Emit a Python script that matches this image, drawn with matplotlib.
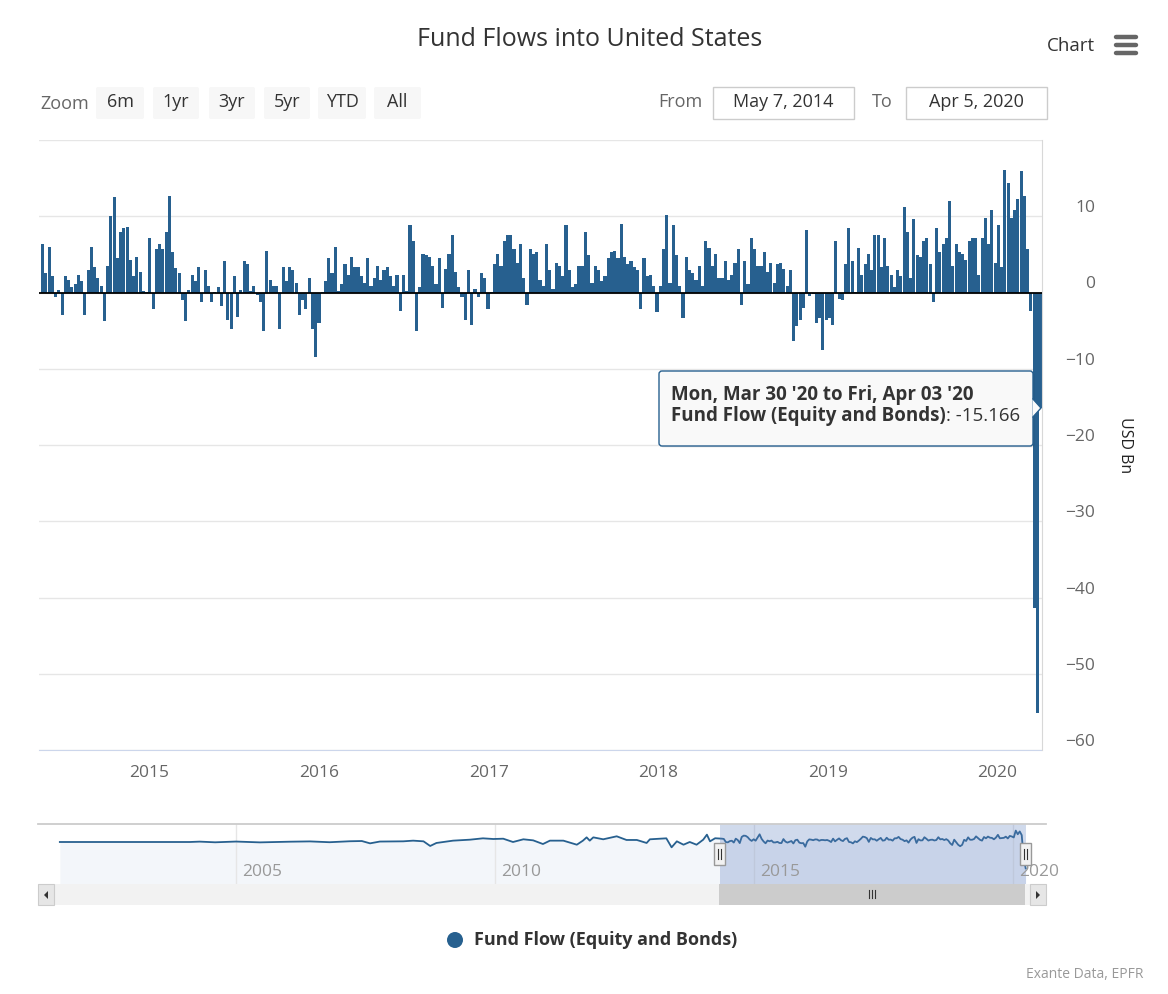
import matplotlib
matplotlib.use("Agg")
import matplotlib.pyplot as plt
import matplotlib.transforms as mtransforms
from matplotlib.patches import Rectangle, FancyBboxPatch, Polygon, Circle
import numpy as np
import pandas as pd

plt.rcParams['font.family'] = ['Open Sans', 'DejaVu Sans']

# ---------------- data ----------------
first_week = "2014-05-16"   # weekly values, week ending Friday

flows_a = [6.4, 2.5, 6.0, 2.1, -0.6, 0.35, -3.0, 2.1, 1.7, 0.7,
           1.1, 2.3, 1.5, -3.0, 2.9, 6.0, 3.3, 1.9, 0.9, -3.8,
           3.5, 10.0, 12.5, 4.5, 8.0, 8.4, 8.6, 4.3, 2.1, 4.6,
           2.7, 0.2, 0.1, 7.2, -2.2, 5.7, 6.4, 5.7, 7.9, 12.6,
           5.3, 3.2, 2.5, -1.0, -3.8, 0.35, 2.3, 1.5, 3.3, -1.3,
           2.9, 0.9, -1.3, 0.1]
flows_b = [0.7, -1.8, 4.1, -3.6, -4.8, 2.1, -3.2, 0.35, 4.1, 3.7,
           0.2, 0.9, -0.3, -1.3, -5.0, 5.5, 1.7, 0.9, 0.9, -4.8,
           3.3, 1.5, 3.3, 2.9, 1.3, -3.0, -1.0, -2.2, 1.9, -4.8,
           -8.5, -4.0, 0.05, 1.5, 4.5, 2.5, 6.0, 0.2, 1.1, 3.7,
           2.3, 4.6, 3.3, 3.3, 2.1, 1.3, 4.5, 0.9, 1.9, 3.5,
           1.7]
flows_c = [2.9, 3.3, 2.1, 0.9, 2.3, -2.4, 2.3, 0.2, 8.8, 6.7,
           -5.0, 0.75, 5.1, 4.9, 4.7, 3.5, 1.1, 4.5, -2.0, 3.1,
           5.1, 7.5, 2.7, 0.75, -0.6, -3.6, 2.9, -4.2, 0.5, -0.6,
           2.5, 1.9, -2.2, 0.1, 3.7, 5.1, 3.5, 6.7, 7.6, 7.5,
           5.7, 3.9, 6.4, 1.9, -1.6, 5.7, 5.1, 5.3, 1.7, 0.9,
           6.3]
flows_d = [2.9, 0.5, 3.9, 3.5, 2.1, 8.8, 2.9, 0.75, 1.1, 3.5,
           3.5, 7.9, 4.9, 1.3, 3.5, 2.9, 1.5, 2.1, 4.5, 5.3,
           5.5, 4.5, 9.0, 4.6, 3.7, 4.1, 3.3, 2.9, -2.2, 4.5,
           2.1, 2.3, 0.9, -2.6, 0.9, 5.7, 10.2, 1.3, 8.8, 4.9,
           0.9, -3.4, 4.6, 2.9, 2.5, 1.7, 3.5, 0.9, 6.8, 5.9,
           3.5, 5.1]
flows_e = [1.9, 1.9, 4.1, 1.7, 2.3, 3.9, 5.7, -1.6, 4.1, 1.1,
           7.1, 5.7, 3.5, 3.5, 5.3, 2.7, 3.9, 1.3, 3.7, 3.9,
           3.1, 0.9, 2.9, -6.4, -4.4, -3.6, -2.0, 8.2, -0.4, -0.2,
           -4.0, -3.4, -7.6, -3.6, -3.4, -4.2, 6.7, -0.8, -1.0, 3.7,
           8.4, 4.1, 0.1, 5.9, 2.3, 3.7, 5.1, 2.9, 7.5, 7.5,
           3.3]
flows_f = [7.1, 3.5, 2.3, 0.75, 2.9, 2.1, 11.2, 7.9, 1.9, 9.6,
           4.9, 4.7, 6.8, 7.2, 3.7, -1.2, 8.4, 5.3, 6.4, 7.1,
           12.0, 3.5, 6.4, 5.3, 5.1, 4.3, 6.8, 7.1, 7.2, 2.3,
           7.2, 9.8, 6.4, 10.8, 3.9, 8.8, 3.3, 16.1, 14.3, 9.8,
           10.8, 12.2, 15.9, 12.6, 5.7]
flows_g = [-2.4, -41.4, -55.2, -15.166]

# navigator history (before the main window)
nav_hist_dates = ["2001-08-08", "2002-12-13", "2004-02-10", "2004-04-20", "2004-08-07",
                  "2005-01-01", "2005-06-18", "2006-01-15", "2006-06-06", "2006-10-23",
                  "2007-03-15", "2007-06-07", "2007-08-04", "2007-10-12", "2008-03-25",
                  "2008-06-03", "2008-08-15", "2008-10-01", "2008-11-14", "2009-03-11",
                  "2009-07-09", "2009-10-08", "2009-12-20", "2010-02-28", "2010-05-08",
                  "2010-07-20", "2010-09-27", "2010-12-05", "2011-01-23", "2011-04-28",
                  "2011-08-01", "2011-09-13", "2011-10-09", "2011-10-31", "2011-11-25",
                  "2012-02-03", "2012-05-08", "2012-07-16", "2012-09-27", "2012-12-05",
                  "2012-12-28", "2013-04-23", "2013-05-30", "2013-07-06", "2013-08-22",
                  "2013-10-05", "2013-11-22", "2014-01-08", "2014-02-03", "2014-02-25",
                  "2014-04-02"]
nav_hist_vals = [0.0, 0.0, 0.0, 0.5, -0.4,
                 0.6, -0.5, 0.4, 0.8, -0.3,
                 1.0, 1.3, -1.8, 0.6, 0.9,
                 1.8, 0.9, -5.3, -1.3, 1.8,
                 3.1, 4.9, 4.0, 4.4, 0.0,
                 3.6, 2.2, -2.7, 1.8, 1.8,
                 -3.6, 1.8, 6.2, 1.8, 6.2,
                 3.6, 7.6, 2.7, 2.7, -1.3,
                 3.6, 4.9, -7.1, 0.9, -3.6,
                 0.0, -3.6, 3.1, 9.8, 0.9,
                 5.0]

title = "Fund Flows into United States"
series_name = "Fund Flow (Equity and Bonds)"
tooltip_range = "Mon, Mar 30 '20 to Fri, Apr 03 '20"
tooltip_value = -15.166
y_ticks = [-60, -50, -40, -30, -20, -10, 0, 10, 20]
y_labelled = [-60, -50, -40, -30, -20, -10, 0, 10]
x_tick_years = [2015, 2016, 2017, 2018, 2019, 2020]
nav_tick_years = [2005, 2010, 2015, 2020]
zoom_buttons = ["6m", "1yr", "3yr", "5yr", "YTD", "All"]
range_from = "2014-05-07"
range_to = "2020-04-05"
range_from_label = "May 7, 2014"
range_to_label = "Apr 5, 2020"
credits = "Exante Data, EPFR"

flows = flows_a + flows_b + flows_c + flows_d + flows_e + flows_f + flows_g
weeks = pd.date_range(first_week, periods=len(flows), freq="7D")

# ---------------- style ----------------
W, H, DPI = 1168, 994, 100
C = "#27608f"
TXT = "#333333"
GRAY = "#666666"

fig = plt.figure(figsize=(W / DPI, H / DPI), dpi=DPI)
fig.patch.set_facecolor("white")


def rect(x0, y0, x1, y1):
    return [x0 / W, 1 - y1 / H, (x1 - x0) / W, (y1 - y0) / H]


bg = fig.add_axes([0, 0, 1, 1])
bg.set_xlim(0, W)
bg.set_ylim(H, 0)
bg.axis("off")
bg.set_zorder(0)

# ---------------- header ----------------
bg.text(590, 40, title, ha="center", va="center", fontsize=18, color=TXT)
bg.text(1071, 46, "Chart", ha="center", va="center", fontsize=13.5, color=TXT)
for yy in (37, 45, 53):
    bg.plot([1116, 1136], [yy, yy], color=GRAY, lw=3.2, solid_capstyle="round")

bg.text(40, 104, "Zoom", ha="left", va="center", fontsize=13, color=GRAY)
btn_x = [(96, 144), (153, 199), (209, 255), (264, 310), (318, 366), (374, 421)]
for (x0, x1), lab in zip(btn_x, zoom_buttons):
    bg.add_patch(FancyBboxPatch((x0, 87), x1 - x0, 32, boxstyle="round,pad=0,rounding_size=2",
                                fc="#f7f7f7", ec="none"))
    bg.text((x0 + x1) / 2, 102, lab, ha="center", va="center", fontsize=13, color=TXT)

bg.text(680, 102, "From", ha="center", va="center", fontsize=13, color=GRAY)
bg.text(882, 102, "To", ha="center", va="center", fontsize=13, color=GRAY)
for (x0, x1), lab in zip([(713, 854), (906, 1047)], [range_from_label, range_to_label]):
    bg.add_patch(Rectangle((x0, 87), x1 - x0, 32, fc="white", ec="#cccccc", lw=1))
    bg.text((x0 + x1) / 2, 102, lab, ha="center", va="center", fontsize=13, color=TXT)

# ---------------- main chart ----------------
ax = fig.add_axes(rect(38.5, 140, 1041.5, 750))
ax.set_zorder(1)
ax.bar(weeks, flows, width=6.6, color=C, edgecolor="none", linewidth=0, zorder=2)
ax.axhline(0, color="black", lw=1.3, zorder=3)
ax.set_xlim(pd.Timestamp(range_from), pd.Timestamp(range_to))
ax.set_ylim(-60, 20)
ax.set_yticks(y_ticks)
ax.yaxis.grid(True, color="#e6e6e6", lw=1)
ax.set_axisbelow(True)
ax.tick_params(axis="y", length=0, labelleft=False, labelright=False)
ax.set_xticks([pd.Timestamp(f"{y}-01-01") for y in x_tick_years])
ax.set_xticklabels([str(y) for y in x_tick_years])
ax.tick_params(axis="x", length=0, pad=11, labelsize=12.5, labelcolor=GRAY)
for s in ("left", "top"):
    ax.spines[s].set_visible(False)
ax.spines["bottom"].set_color("#ccd6eb")
ax.spines["right"].set_color("#d8d8d8")

lab_tr = mtransforms.blended_transform_factory(ax.transAxes, ax.transData) + \
    mtransforms.ScaledTranslation(0, 8 / DPI, fig.dpi_scale_trans)
for v in y_labelled:
    s = f"{v}".replace("-", "\u2212")
    ax.text(1.0533, v, s, transform=lab_tr, ha="right", va="center", fontsize=12.5,
            color=GRAY, clip_on=False)
bg.text(1125, 445, "USD Bn", rotation=270, ha="center", va="center", fontsize=11.5, color="#222222")

# ---------------- navigator ----------------
nav = fig.add_axes(rect(38, 824, 1046, 884))
nav.set_zorder(1)
base = pd.Timestamp("2005-01-01")
px_per_day = 259 / 1826.0
nav.set_xlim(base - pd.Timedelta(days=(236 - 38) / px_per_day),
             base + pd.Timedelta(days=(1046 - 236) / px_per_day))
nav.set_ylim(-56, 24)
nav.axis("off")

grp = np.arange(len(flows)) // 2
main_nav = pd.DataFrame({"d": weeks, "v": flows, "g": grp}).groupby("g").agg(
    d=("d", lambda s: s.iloc[0] + (s.iloc[-1] - s.iloc[0]) / 2), v=("v", "mean"))
nav_d = list(pd.to_datetime(nav_hist_dates)) + list(main_nav["d"])
nav_v = list(nav_hist_vals) + list(main_nav["v"])
nav.fill_between(nav_d, nav_v, -56, color="#f3f6fa", lw=0, zorder=1)
nav.plot(nav_d, nav_v, color=C, lw=1.3, zorder=2)
off = mtransforms.ScaledTranslation(6 / DPI, 0, fig.dpi_scale_trans)
for y in nav_tick_years:
    t = pd.Timestamp(f"{y}-01-01")
    nav.axvline(t, color="#e6e6e6", lw=1, zorder=1.5)
    nav.text(t, -40, str(y), transform=nav.transData + off, ha="left", va="center",
             fontsize=12.5, color="#999999", zorder=4)
nav.axvspan(pd.Timestamp(range_from), pd.Timestamp(range_to),
            color=(102 / 255, 133 / 255, 194 / 255, 0.3), lw=0, zorder=3)

# handles, border, scrollbar (pixel overlay)
fg = fig.add_axes([0, 0, 1, 1])
fg.set_xlim(0, W)
fg.set_ylim(H, 0)
fg.axis("off")
fg.patch.set_alpha(0)
fg.set_zorder(5)

fg.plot([38, 1046], [824, 824], color="#cccccc", lw=1.3)
fg.add_patch(Rectangle((38, 884), 1008, 21, fc="#f2f2f2", ec="none"))
fg.add_patch(Rectangle((719, 884), 306, 21, fc="#cccccc", ec="none"))
for xx in (869, 872, 875):
    fg.plot([xx, xx], [890, 898], color=TXT, lw=0.8)
for x0, pts in [(38, [(48, 891), (48, 899), (44, 895)]), (1030, [(1036, 891), (1036, 899), (1040, 895)])]:
    fg.add_patch(Rectangle((x0, 884), 16, 21, fc="#e6e6e6", ec="#cccccc", lw=0.8))
    fg.add_patch(Polygon(pts, closed=True, fc=TXT, ec="none"))
for hx in (719, 1025):
    fg.add_patch(Rectangle((hx - 5.5, 843), 11, 22, fc="#f2f2f2", ec="#999999", lw=1))
    for dx in (-1.5, 1.5):
        fg.plot([hx + dx, hx + dx], [849, 859], color=TXT, lw=0.8)

# ---------------- tooltip ----------------
box_fc = (0.985, 0.985, 0.985, 0.92)
fg.add_patch(FancyBboxPatch((660.5, 372.5), 374, 75, boxstyle="round,pad=0,rounding_size=3",
                            fc=(0, 0, 0, 0.08), ec="none"))
fg.add_patch(FancyBboxPatch((659, 371), 374, 75, boxstyle="round,pad=0,rounding_size=3",
                            fc=box_fc, ec=C, lw=1))
fg.add_patch(Polygon([(1032.5, 399), (1041, 408), (1032.5, 417)], closed=True, fc=(0.985, 0.985, 0.985),
                     ec="none"))
fg.plot([1033, 1041, 1033], [399, 408, 417], color=C, lw=1)
TFS = 13.5
fg.text(671, 395, tooltip_range, ha="left", va="center", fontsize=TFS, weight="bold", color=TXT)
t2 = fg.text(671, 416, series_name, ha="left", va="center", fontsize=TFS, weight="bold", color=TXT)
fig.canvas.draw()
bb = t2.get_window_extent(renderer=fig.canvas.get_renderer())
fg.text(bb.x1, 416, f": {tooltip_value:.3f}", ha="left", va="center", fontsize=TFS, color=TXT)

# ---------------- legend & credits ----------------
bg.add_patch(Circle((455, 940), 8, fc=C, ec="none"))
bg.text(474, 940, series_name, ha="left", va="center", fontsize=13, weight="bold", color=TXT)
bg.text(1143, 975, credits, ha="right", va="center", fontsize=10, color="#999999")

fig.savefig("out.png", dpi=DPI)
